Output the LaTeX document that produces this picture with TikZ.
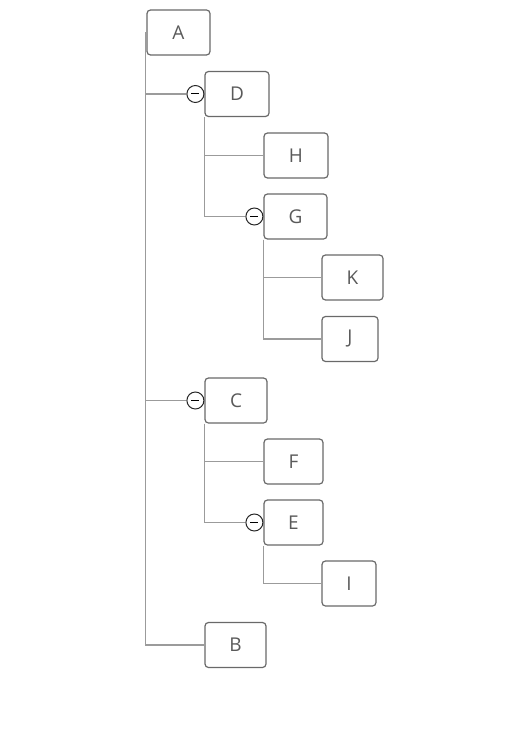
\documentclass[tikz,border=0pt]{standalone}
\usepackage{fontspec}
\setmainfont{Open Sans}
\usetikzlibrary{positioning}
\definecolor{lineColor}{RGB}{155,155,155}
\definecolor{boxColor}{RGB}{105,105,105}
\definecolor{textColor}{RGB}{90,90,90}
\tikzstyle{outline} = [x = 1pt, y = -1pt]
\tikzstyle{topicBox} = [draw=boxColor, line width=1.2pt, fill=white, rounded corners = 3.5pt, minimum height=45pt, minimum width=#1, inner sep=0pt, text=textColor, font=\fontsize{19}{21}\selectfont]
\tikzstyle{branchLine} = [draw=lineColor, line width=1.2pt]
\tikzstyle{minusSign} = [draw=black!85, fill=white, circle, line width=1pt, minimum size=17pt, inner sep=0pt]
\newcommand{\foldMark}[1]{\node [minusSign, left=0pt of #1] (m#1) {}; \draw [line width=1pt] ([xshift=-4pt]m#1.center) -- ([xshift=4pt]m#1.center);}

\begin{document}
\begin{tikzpicture}[outline]
  \useasboundingbox (0,0) rectangle (512,733);
  % topics
  \node [topicBox=63pt] (A) at (178.5, 32.5) {A};
  \node [topicBox=64pt] (D) at (237, 94) {D};
  \node [topicBox=64pt] (H) at (296, 155.5) {H};
  \node [topicBox=63pt] (G) at (295.5, 216.5) {G};
  \node [topicBox=61pt] (K) at (352.5, 277.5) {K};
  \node [topicBox=56pt] (J) at (350, 339) {J};
  \node [topicBox=62pt] (C) at (236, 400.5) {C};
  \node [topicBox=59pt] (F) at (293.5, 461.5) {F};
  \node [topicBox=59pt] (E) at (293.5, 522.5) {E};
  \node [topicBox=54pt] (I) at (349, 583.5) {I};
  \node [topicBox=61pt] (B) at (235.5, 645) {B};
  % fold marks
  \foldMark{D}
  \foldMark{G}
  \foldMark{C}
  \foldMark{E}
  % branches
  \draw [branchLine] ([xshift=-1pt]A.west) |- (mD.west);
  \draw [branchLine] ([xshift=-1pt]A.west) |- (mC.west);
  \draw [branchLine] ([xshift=-1pt]A.west) |- (B.west);
  \draw [branchLine] (D.south west) |- (H.west);
  \draw [branchLine] (D.south west) |- (mG.west);
  \draw [branchLine] (G.south west) |- (K.west);
  \draw [branchLine] (G.south west) |- (J.west);
  \draw [branchLine] (C.south west) |- (F.west);
  \draw [branchLine] (C.south west) |- (mE.west);
  \draw [branchLine] (E.south west) |- (I.west);
\end{tikzpicture}
\end{document}
